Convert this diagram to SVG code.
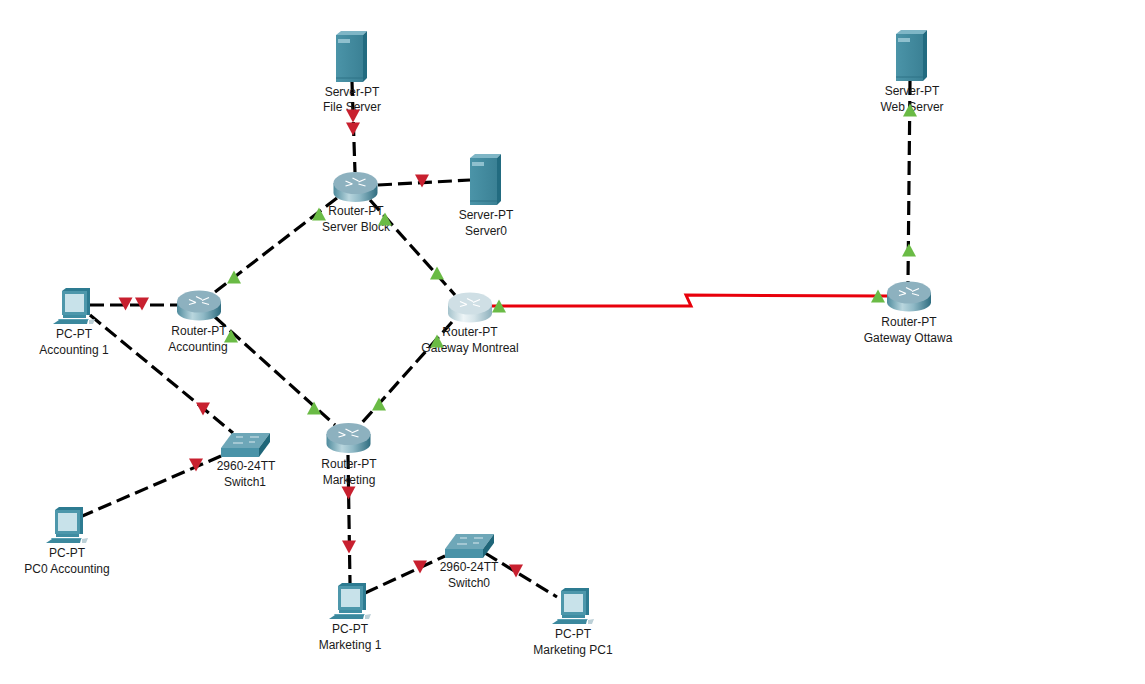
<svg xmlns="http://www.w3.org/2000/svg" width="1145" height="684" viewBox="0 0 1145 684">
<style>
text{font-family:"Liberation Sans",Arial,sans-serif;font-size:12px;fill:#1a1a1a;text-anchor:middle}
.l{fill:none;stroke:#000;stroke-width:3.2;stroke-dasharray:14 6}
.s{fill:none;stroke:#e8000b;stroke-width:3}
</style>
<defs>
<linearGradient id="rb" x1="0" x2="1" y1="0" y2="0"><stop offset="0" stop-color="#4f8b9d"/><stop offset=".35" stop-color="#b9d6de"/><stop offset=".6" stop-color="#8fb9c6"/><stop offset="1" stop-color="#2f6d80"/></linearGradient>
<linearGradient id="rw" x1="0" x2="1" y1="0" y2="0"><stop offset="0" stop-color="#a5c3cc"/><stop offset=".35" stop-color="#eef5f7"/><stop offset=".6" stop-color="#d5e4e9"/><stop offset="1" stop-color="#8db0bc"/></linearGradient>
<linearGradient id="sv" x1="0" x2="1" y1="0" y2="0"><stop offset="0" stop-color="#4b94a8"/><stop offset="1" stop-color="#3b8195"/></linearGradient>
<g id="arrows" fill="none" stroke="#fff" stroke-width="1.3"><path d="M-10-6 -3-3M-3-9 3-6M10-8 3-5M10-1 3-3M-10-1 -3-3"/></g>
<g id="router"><path d="M-22-4V6C-22 11-12 15 0 15S22 11 22 6V-4Z" fill="url(#rb)"/><ellipse cx="0" cy="-4" rx="22" ry="11" fill="#8db1bf"/><use href="#arrows"/></g>
<g id="routerw"><path d="M-22-4V6C-22 11-12 15 0 15S22 11 22 6V-4Z" fill="url(#rw)"/><ellipse cx="0" cy="-4" rx="22" ry="11" fill="#cfdfe5"/><use href="#arrows"/></g>
<g id="server"><path d="M0 4 5 0H31L27 4Z" fill="#7fb6c6"/><path d="M27 4 31 0V47L27 51Z" fill="#226b80"/><rect x="0" y="4" width="27" height="47" fill="url(#sv)"/><rect x="2" y="8" width="12" height="4" fill="#8fc0ce"/><path d="M0 47H27" stroke="#2f7286" stroke-width="1"/></g>
<g id="pc"><path d="M9 3 13 0H37V27H9Z" fill="#2d7b91"/><rect x="9" y="3" width="25" height="24" fill="#4d97ab"/><rect x="12" y="6" width="19" height="18" fill="#c8e2ea"/><path d="M10 27H33V30H10Z" fill="#3f8da2"/><path d="M5 31H36L33 34H7Z" fill="#5aa0b3"/><path d="M0 36 6 32H35L34 36Z" fill="#3b889d"/><path d="M36 32 42 31 40 36H36Z" fill="#bcd0d7"/></g>
<g id="switch"><path d="M0 15 11 0H49L38 15Z" fill="#6ea7b8"/><path d="M38 15 49 0V9L38 24Z" fill="#1f6679"/><rect x="0" y="15" width="38" height="9" fill="#4a93a8"/><path d="M15 4H22M29 4H38M12 10H22M28 9H34" stroke="#d8e8ee" stroke-width="1"/></g>
<path id="rd" d="M-7-6.500H7L0 6.500Z" fill="#c8202f"/>
<path id="gr" d="M-7 6.500H7L0-6.500Z" fill="#6abb45"/>
</defs>
<rect width="1145" height="684" fill="#fff"/>
<g id="connectors">
<path class="l" d="M352 82 355 172"/>
<path class="l" d="M378 185 470 180"/>
<path class="l" d="M337 198 215 292"/>
<path class="l" d="M370 200 455 295"/>
<path class="l" d="M215 317 335 425"/>
<path class="l" d="M452 322 360 425"/>
<path class="l" d="M90 305H177"/>
<path class="l" d="M90 315 233 433"/>
<path class="l" d="M80 517 221 456"/>
<path class="l" d="M348 455 350 583"/>
<path class="l" d="M365 593 445 556"/>
<path class="l" d="M485 553 557 597"/>
<path class="l" d="M910 81 908 282"/>
<path class="s" d="M492 306H691L686 295 887 296"/>
</g>
<g id="n-file"><use href="#server" x="336" y="31"/><text x="352" y="96">Server-PT</text><text x="352" y="111">File Server</text></g>
<g id="n-server0"><use href="#server" x="470" y="154"/><text x="486" y="219">Server-PT</text><text x="486" y="235">Server0</text></g>
<g id="n-web"><use href="#server" x="896" y="30"/><text x="912" y="95">Server-PT</text><text x="912" y="111">Web Server</text></g>
<g id="n-block"><use href="#router" x="355.500" y="187"/><text x="356" y="215">Router-PT</text><text x="356" y="231">Server Block</text></g>
<g id="n-acc"><use href="#router" x="199" y="305.500"/><text x="199" y="335">Router-PT</text><text x="198" y="351">Accounting</text></g>
<g id="n-mont"><use href="#routerw" x="470" y="307.500"/><text x="470" y="336">Router-PT</text><text x="470" y="352">Gateway Montreal</text></g>
<g id="n-ott"><use href="#router" x="909" y="296.500"/><text x="909" y="326">Router-PT</text><text x="908" y="342">Gateway Ottawa</text></g>
<g id="n-mark"><use href="#router" x="348.500" y="438"/><text x="349" y="468">Router-PT</text><text x="349" y="484">Marketing</text></g>
<g id="n-pcacc"><use href="#pc" x="53" y="288"/><text x="74" y="338">PC-PT</text><text x="74" y="354">Accounting 1</text></g>
<g id="n-pc0"><use href="#pc" x="46" y="507"/><text x="67" y="557">PC-PT</text><text x="67" y="573">PC0 Accounting</text></g>
<g id="n-m1"><use href="#pc" x="329" y="583"/><text x="350" y="633">PC-PT</text><text x="350" y="649">Marketing 1</text></g>
<g id="n-mpc1"><use href="#pc" x="552" y="588"/><text x="573" y="638">PC-PT</text><text x="573" y="654">Marketing PC1</text></g>
<g id="n-sw1"><use href="#switch" x="221" y="433"/><text x="246" y="470">2960-24TT</text><text x="245" y="486">Switch1</text></g>
<g id="n-sw0"><use href="#switch" x="445" y="534"/><text x="469" y="571">2960-24TT</text><text x="469" y="587">Switch0</text></g>
<g id="status">
<use href="#rd" x="353" y="116"/><use href="#rd" x="353" y="129"/><use href="#rd" x="422" y="181"/><use href="#rd" x="125.500" y="304"/><use href="#rd" x="142" y="304"/><use href="#rd" x="203" y="409"/><use href="#rd" x="196" y="465"/><use href="#rd" x="348.500" y="493"/><use href="#rd" x="349" y="547"/><use href="#rd" x="420" y="567"/><use href="#rd" x="516" y="571"/>
<use href="#gr" x="319" y="214"/><use href="#gr" x="234" y="277"/><use href="#gr" x="385" y="219"/><use href="#gr" x="437" y="273"/><use href="#gr" x="231" y="336"/><use href="#gr" x="314" y="408"/><use href="#gr" x="437" y="341"/><use href="#gr" x="379" y="404"/><use href="#gr" x="499" y="306"/><use href="#gr" x="878" y="296"/><use href="#gr" x="909" y="250"/><use href="#gr" x="910" y="110"/>
</g>
</svg>
